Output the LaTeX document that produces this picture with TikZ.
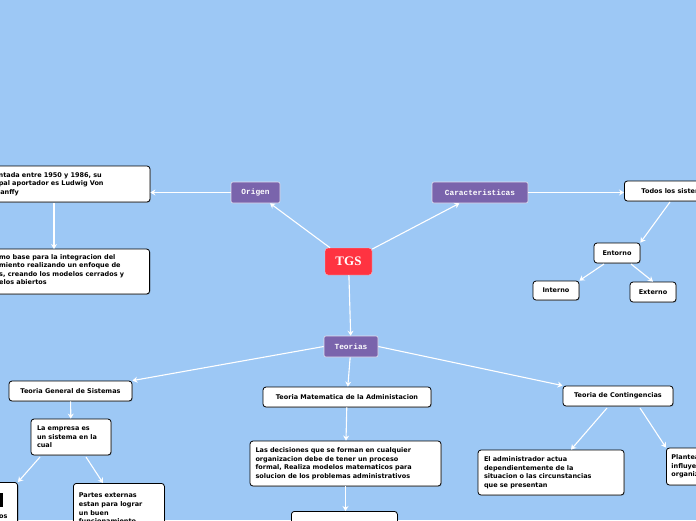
\documentclass[tikz,border=0pt]{standalone}
\usepackage{fontspec}
\setmainfont{DejaVu Sans}
\newfontfamily\monof{Liberation Mono}
\newfontfamily\serifb{Liberation Serif}
\usetikzlibrary{arrows.meta,shadows}
\definecolor{bg}{HTML}{9DC8F5}
\definecolor{purp}{HTML}{7A64AC}
\definecolor{tred}{HTML}{FF3341}
\tikzset{
 box/.style={draw=black,fill=white,rounded corners=3pt,line width=0.8pt,drop shadow={shadow xshift=0.8pt,shadow yshift=-0.8pt,opacity=0.4},font=\bfseries\fontsize{6.5}{8.5}\selectfont,align=left,inner sep=0pt},
 pbox/.style={draw=white!80!purp,fill=purp,rounded corners=2pt,line width=0.6pt,text=white,font=\monof\bfseries\fontsize{7.8}{8}\selectfont,inner sep=0pt},
 conn/.style={draw=white,line width=1.1pt,-{Stealth[length=5pt,width=6pt]}},
 plain/.style={draw=white,line width=1.1pt}
}
\begin{document}
\begin{tikzpicture}[x=1pt,y=-1pt]
\useasboundingbox (0,0) rectangle (696,520);
\clip (0,0) rectangle (696,520);
\fill[bg] (0,0) rectangle (696,520);
% central
\node[draw=white!70!tred,fill=tred,rounded corners=3pt,text=white,font=\serifb\bfseries\fontsize{13}{13}\selectfont,minimum width=47pt,minimum height=27pt,inner sep=0pt] (tgs) at (348.5,261.5) {TGS};
\node[pbox,minimum width=49pt,minimum height=21pt] (orig) at (255.5,192.5) {Origen};
\node[pbox,minimum width=96pt,minimum height=21pt] (car) at (480,192.5) {Caracteristicas};
\node[pbox,minimum width=54pt,minimum height=21pt] (teo) at (351,346.5) {Teorias};
% origen
\node[box,minimum width=177pt,minimum height=36pt,text width=167pt] (o1) at (61.5,184) {Presentada entre 1950 y 1986, su\\principal aportador es Ludwig Von\\Bertalanffy};
\node[box,minimum width=190pt,minimum height=45pt,anchor=east] (o2) at (150,271.5) {};
\node[font=\bfseries\fontsize{6.5}{8.5}\selectfont,align=left,anchor=north west,inner sep=0pt] at (-1,254) {mo base para la integracion del\\miento realizando un enfoque de\\s, creando los modelos cerrados y\\elos abiertos};
% caracteristicas
\node[box,minimum width=110pt,minimum height=20pt,anchor=west] (todos) at (624,191) {\hspace{8pt}Todos los sistemas son};
\coordinate (todosr) at (712,220);
\node[box,minimum width=46pt,minimum height=20pt] (ent) at (617,253) {Entorno};
\node[box,minimum width=46pt,minimum height=19pt] (int) at (556,290.5) {Interno};
\node[box,minimum width=46pt,minimum height=20pt] (ext) at (653,292) {Externo};
% teorias
\node[box,minimum width=123pt,minimum height=20pt] (tgsis) at (70.5,391) {Teoria General de Sistemas};
\node[box,minimum width=168pt,minimum height=20pt] (mat) at (347,397) {Teoria Matematica de la Administacion};
\node[box,minimum width=110pt,minimum height=20pt] (cont) at (618,396) {Teoria de Contingencias};
\node[box,minimum width=80pt,minimum height=36pt,text width=68pt] (emp) at (71,437) {La empresa es\\un sistema en la\\cual};
\node[box,minimum width=60pt,minimum height=50pt,anchor=north east] (bl) at (18,482) {};
\fill[black] (-2,493) rectangle (3,507);
\node[font=\bfseries\fontsize{6.5}{8.5}\selectfont,inner sep=0pt,anchor=base west] at (-1,518) {os};
\node[box,minimum width=91pt,minimum height=50pt,text width=80pt,anchor=north west] (part) at (73,483) {\vspace{1pt}Partes externas\\estan para lograr\\un buen\\funcionamiento};
\node[box,minimum width=191pt,minimum height=45pt,text width=180pt] (dec) at (345.5,463.5) {Las decisiones que se forman en cualquier\\organizacion debe de tener un proceso\\formal, Realiza modelos matematicos para\\solucion de los problemas administrativos};
\node[box,minimum width=106pt,minimum height=30pt,anchor=north west] (bm) at (291,511) {};
\node[box,minimum width=146pt,minimum height=45pt,text width=134pt] (adm) at (551,472.5) {El administrador actua\\dependientemente de la\\situacion o las circunstancias\\que se presentan};
\node[box,minimum width=80pt,minimum height=37pt,text width=70pt,anchor=west] (pla) at (666,466.5) {Plantea que\\influye en la\\organizacion};
% connectors
\draw[conn] (tgs) -- (orig);
\draw[conn] (tgs) -- (car);
\draw[conn] (tgs) -- (teo);
\draw[conn] (orig) -- (o1.east|-orig);
\draw[conn] (54,203) -- (54,249);
\draw[conn] (car) -- (todos.west|-car);
\draw[conn] (670,202) -- (ent.north east);
\draw[plain] (697,202) -- (todosr);
\draw[conn] (604,264) -- (int.north east);
\draw[conn] (631,264) -- (ext.north);
\draw[conn] (teo.west) -- (tgsis.north east);
\draw[conn] (teo) -- (mat);
\draw[conn] (teo.east) -- (cont.north west);
\draw[conn] (tgsis) -- (emp);
\draw[conn] (40,457) -- (bl.north east);
\draw[conn] (86,457) -- (part.north west -| 103,0);
\draw[conn] (mat) -- (dec);
\draw[conn] (dec) -- (bm.north-|dec);
\draw[conn] (607,408) -- (adm.north-|571,0);
\draw[conn] (640,408) -- (pla.north west);
\end{tikzpicture}
\end{document}
